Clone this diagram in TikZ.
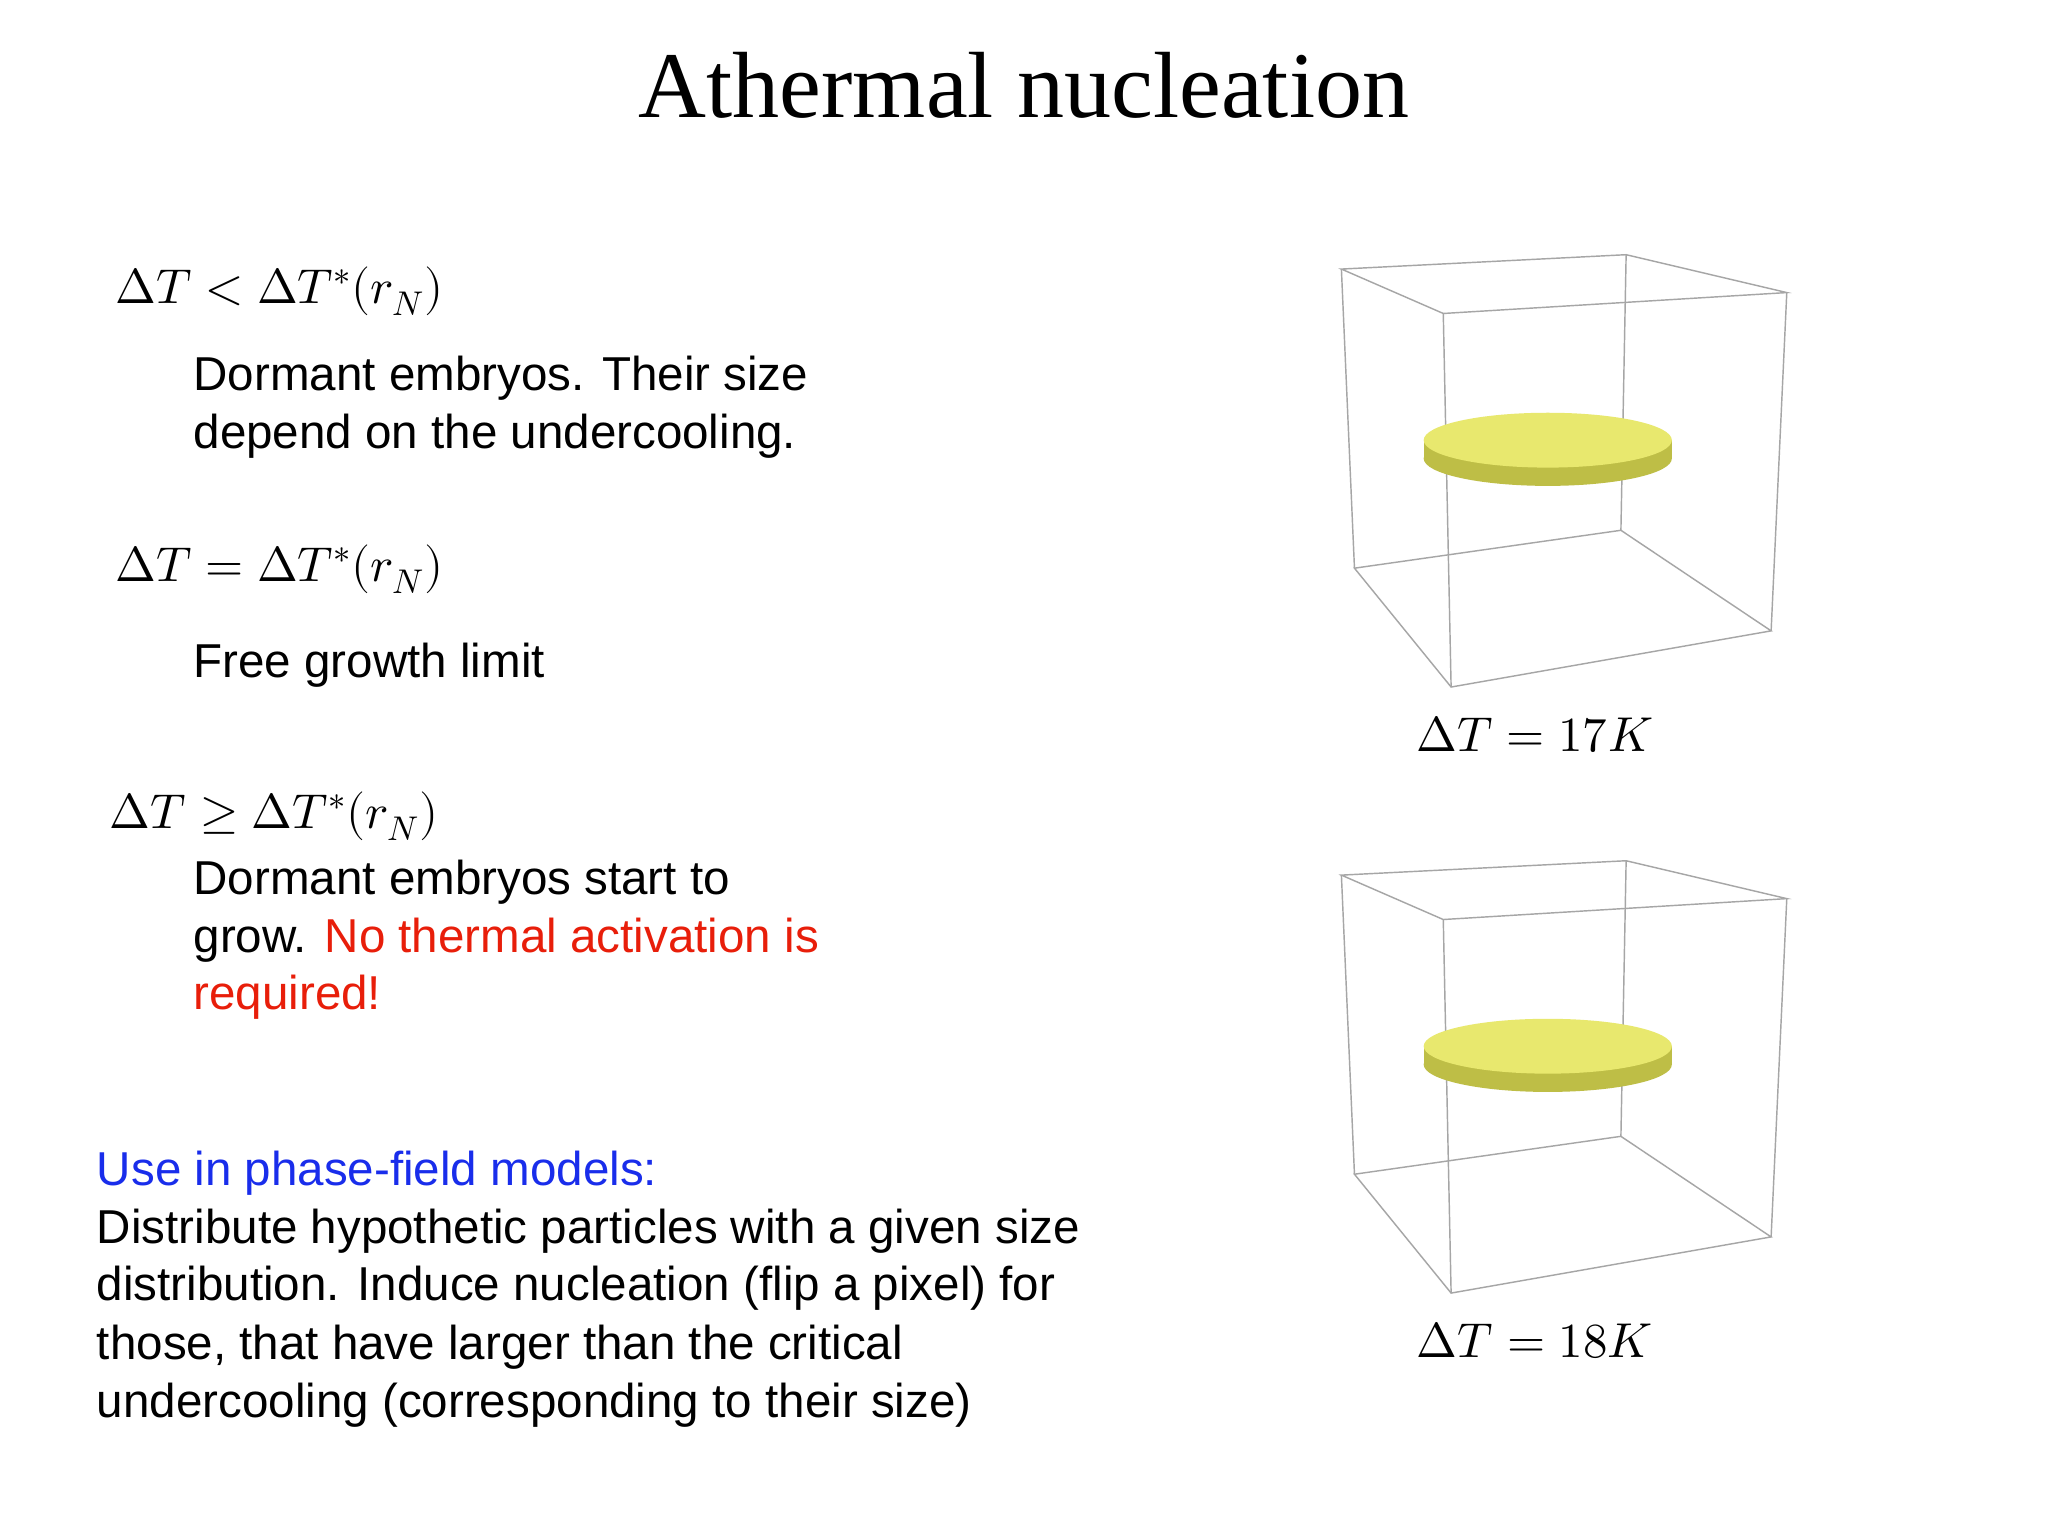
\documentclass[tikz,border=0pt]{standalone}
\usepackage{fontspec}
\setmainfont{Liberation Sans}
\newfontfamily\titlefont{Liberation Serif}
\usepackage{amsmath}
\usepackage{unicode-math}
\setmathfont{Latin Modern Math}
\definecolor{myred}{RGB}{232,30,10}
\definecolor{myblue}{RGB}{25,45,235}
\definecolor{disk}{RGB}{232,232,110}
\definecolor{diskside}{RGB}{190,190,70}
\begin{document}
\begin{tikzpicture}[x=1pt,y=-1pt,
  body/.style={anchor=base west,inner sep=0,font=\fontsize{36.4}{40}\selectfont},
  mth/.style={anchor=base west,inner sep=0,font=\fontsize{37.5}{40}\selectfont},
  edge/.style={draw=gray!70,line width=1.1pt}]
\useasboundingbox (0,0) rectangle (1568,1176);
\fill[white] (0,0) rectangle (1568,1176);
\node[anchor=base,inner sep=0,font=\titlefont\fontsize{72}{80}\selectfont] (title) at (784,90) {Athermal nucleation};
\node[mth] (f1) at (88,232) {$\Delta T < \Delta T^*(r_N)$};
\node[body] (t1a) at (148,299) {Dormant embryos. Their size};
\node[body] (t1b) at (148,343) {depend on the undercooling.};
\node[mth] (f2) at (88,445) {$\Delta T = \Delta T^*(r_N)$};
\node[body] (t2) at (148,519) {Free growth limit};
\node[mth] (f3) at (84,634) {$\Delta T \geq \Delta T^*(r_N)$};
\node[body] (t3a) at (148,685) {Dormant embryos start to};
\node[body] (t3b) at (148,729) {grow. \textcolor{myred}{No thermal activation is}};
\node[body,text=myred] (t3c) at (148,773) {required!};
\node[body,text=myblue] (u0) at (74,908) {Use in phase-field models:};
\node[body] (u1) at (74,952) {Distribute hypothetic particles with a given size};
\node[body] (u2) at (74,996) {distribution. Induce nucleation (flip a pixel) for};
\node[body] (u3) at (74,1041) {those, that have larger than the critical};
\node[body] (u4) at (74,1085) {undercooling (corresponding to their size)};
\foreach \dy/\lab in {0/17,464/18}{
\begin{scope}[yshift=-\dy pt]
\draw[edge] (1027,206)--(1245,195)--(1368,224)--(1105,240)--cycle;
\draw[edge] (1037,435)--(1241,406)--(1356,483)--(1111,526)--cycle;
\draw[edge] (1027,206)--(1037,435) (1245,195)--(1241,406) (1105,240)--(1111,526) (1368,224)--(1356,483);
\fill[diskside] (1185,351) ellipse[x radius=95,y radius=21];
\fill[diskside] (1090,337) rectangle (1280,351);
\fill[disk] (1185,337) ellipse[x radius=95,y radius=21];
\node[anchor=base,inner sep=0,font=\fontsize{37.5}{40}\selectfont] (lab\lab) at (1175,575) {$\Delta T = \lab K$};
\end{scope}}
\end{tikzpicture}
\end{document}
